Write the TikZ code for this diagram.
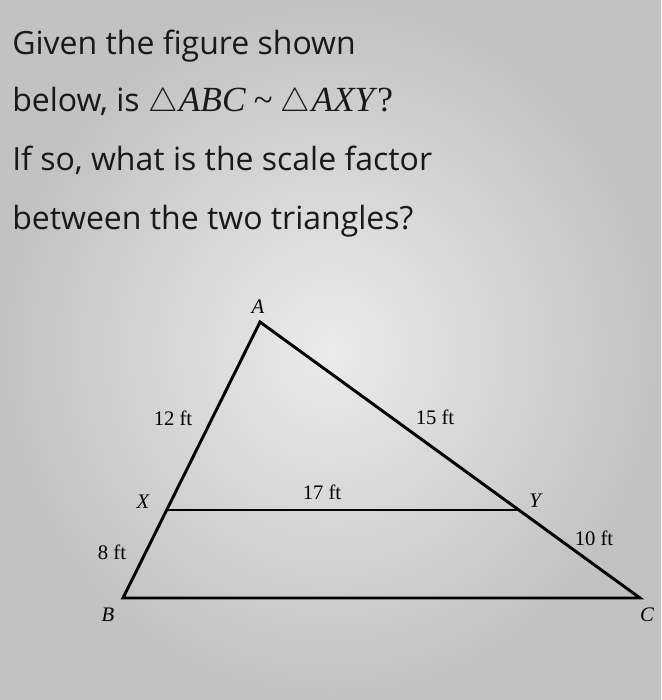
\documentclass[tikz,border=0pt]{standalone}
\usepackage{fontspec}
\setmainfont{Open Sans}
\newfontfamily\tnr{Liberation Serif}
\tikzset{
  edge/.style={line width=2.2pt, line join=miter},
  lbl/.style={inner sep=0.75pt, font=\tnr\fontsize{15.5}{18}\selectfont},
  vtx/.style={inner sep=0.75pt, font=\tnr\itshape\fontsize{15.5}{18}\selectfont},
  qline/.style={anchor=base west, inner sep=0pt, font=\fontsize{24}{28}\selectfont, text=black!90}
}
\begin{document}
\begin{tikzpicture}[x=0.75pt,y=0.75pt,yscale=-1,xscale=1]
%Background
\shade [inner color=black!8, outer color=black!24] (0,0) rectangle (661,700);
\useasboundingbox (0,0) rectangle (661,700);

% Question text
\node [qline] (q1) at (12,54) {Given the figure shown};
\node [qline] (q2) at (12,111) {below, is {\tnr\fontsize{26.5}{28}\selectfont$\triangle$\kern1pt\textit{ABC}\kern6pt{\fontsize{26}{28}\selectfont\raisebox{0pt}{\textasciitilde}}\kern6pt$\triangle$\kern1pt\textit{AXY}?}};
\node [qline] (q3) at (12,170) {If so, what is the scale factor};
\node [qline] (q4) at (12,229) {between the two triangles?};

% Vertices
\coordinate (A) at (260,322);
\coordinate (B) at (123,598);
\coordinate (C) at (640,598);
\coordinate (X) at (167,510);
\coordinate (Y) at (519,510);

% Triangle and parallel segment
\draw [edge] (A) -- (B) -- (C) -- cycle;
\draw [edge] (X) -- (Y);

% Text Node
\node [vtx] (lA) at (258,307) {A};
\node [vtx] (lB) at (108,615) {B};
\node [vtx] (lC) at (647,615) {C};
\node [vtx] (lX) at (143,502) {X};
\node [vtx] (lY) at (535,501) {Y};
% Text Node
\node [lbl] (s12) at (173,418) {12 ft};
\node [lbl] (s15) at (435,417) {15 ft};
\node [lbl] (s17) at (322,492) {17 ft};
\node [lbl] (s10) at (594,538) {10 ft};
\node [lbl] (s8) at (112,552) {8 ft};
\end{tikzpicture}
\end{document}
